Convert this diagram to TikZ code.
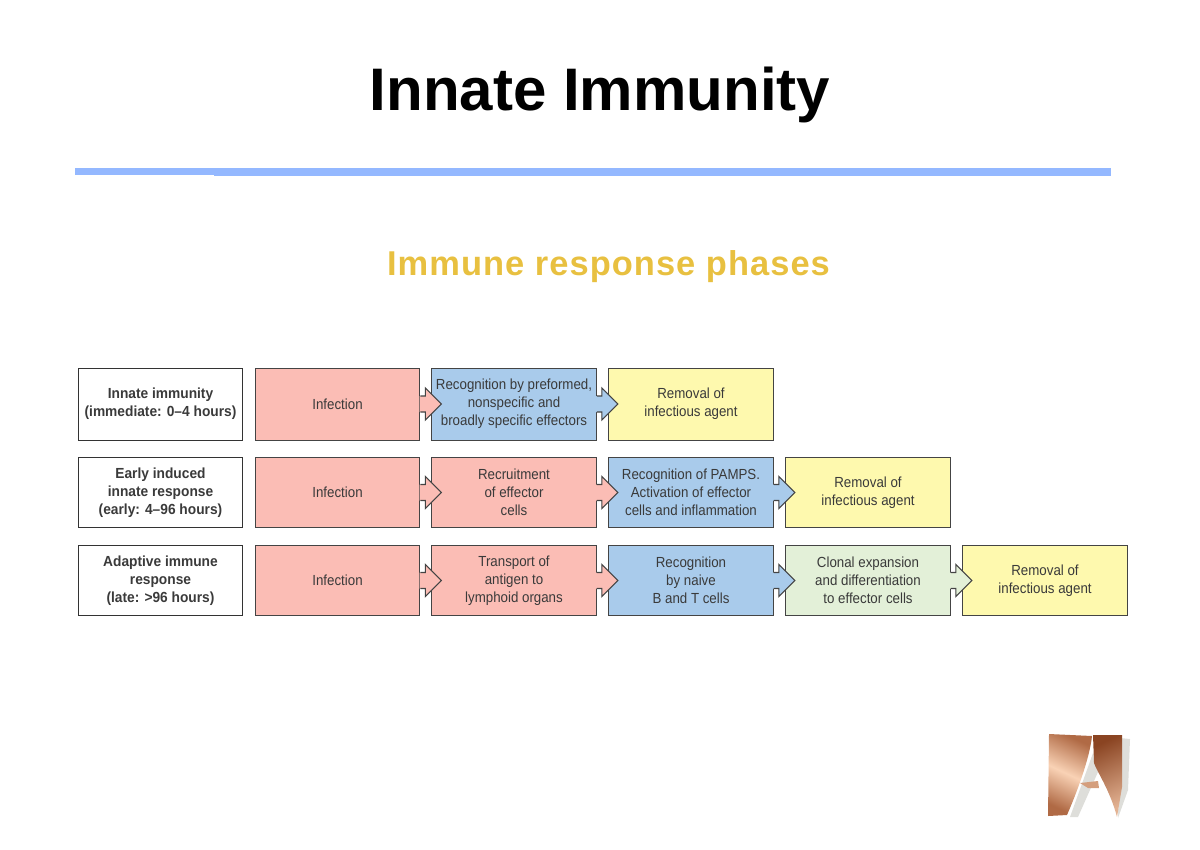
\documentclass[tikz,border=0pt]{standalone}
\usepackage{fontspec}
\setmainfont{Liberation Sans}
\newfontfamily\phasefont[FakeStretch=0.91,Ligatures=TeX]{Liberation Sans}
\newfontfamily\labelfont[FakeStretch=0.94,Ligatures=TeX]{Liberation Sans}
\definecolor{rulecol}{HTML}{94B8FF}
\definecolor{subcol}{HTML}{E8C040}
\definecolor{pinkbox}{HTML}{FBBDB5}
\definecolor{bluebox}{HTML}{A9CBEB}
\definecolor{yellowbox}{HTML}{FEF9AE}
\definecolor{greenbox}{HTML}{E3F0D8}
\definecolor{edgecol}{HTML}{444444}
\definecolor{textcol}{HTML}{3A3A3A}
\definecolor{logodark}{HTML}{8A4422}
\definecolor{logomid}{HTML}{B06A45}
\definecolor{logolight}{HTML}{F9D2B5}
\definecolor{logoshadow}{HTML}{DEDEDA}
\tikzset{
	phase/.style={draw=edgecol, line width=0.7pt, minimum width=4.12cm, minimum height=1.76cm, align=center, inner sep=0pt, text=textcol, font=\phasefont\fontsize{10.4}{12.7}\selectfont},
	rowlabel/.style={phase, draw=black!80, fill=white, font=\labelfont\fontsize{10.4}{12.7}\selectfont\bfseries},
	firstrow/.style={minimum height=1.8cm},
}
\def\boxarrow#1#2{
	\fill[#2, shift={(#1.east)}] (-0.7, -8) -- (5, -8) -- (5, -16) -- (21, 0) -- (5, 16) -- (5, 8) -- (-0.7, 8) -- cycle;
	\draw[edgecol, line width=0.8pt, shift={(#1.east)}] (0, -8) -- (5, -8) -- (5, -16) -- (21, 0) -- (5, 16) -- (5, 8) -- (0, 8);
}

\begin{document}
\begin{tikzpicture}[x=0.025cm, y=-0.025cm]
	\useasboundingbox (0, 0) rectangle (1200, 849);
	
	%%%%% HEADER %%%%%
	\node (title) at (600, 95) {\fontsize{42.7}{50}\selectfont\bfseries Innate Immunity};
	\fill[rulecol] (75, 168) rectangle (215, 174.5);
	\fill[rulecol] (214, 168) rectangle (1111, 175.5);
	\node[text=subcol] (subtitle) at (608.5, 267) {\fontsize{24.5}{28}\selectfont\bfseries\addfontfeatures{LetterSpace=3} Immune response phases};
	
	%%%%% FIRST ROW %%%%%
	\node[rowlabel, firstrow] (innate) at (160.5, 404) {Innate immunity\\(immediate: 0--4 hours)};
	\node[phase, firstrow, fill=pinkbox] (infa) at (337.5, 404) {Infection};
	\node[phase, firstrow, fill=bluebox] (recoga) at (514, 404) {Recognition by preformed,\\nonspecific and\\broadly specific effectors};
	\node[phase, firstrow, fill=yellowbox] (removea) at (691, 404) {Removal of\\infectious agent};
	\boxarrow{infa}{pinkbox}
	\boxarrow{recoga}{bluebox}
	
	%%%%% SECOND ROW %%%%%
	\node[rowlabel] (early) at (160.5, 492.5) {Early induced\\innate response\\(early: 4--96 hours)};
	\node[phase, fill=pinkbox] (infb) at (337.5, 492.5) {Infection};
	\node[phase, fill=pinkbox] (recruit) at (514, 492.5) {Recruitment\\of effector\\cells};
	\node[phase, fill=bluebox] (recogb) at (691, 492.5) {Recognition of PAMPS.\\Activation of effector\\cells and inflammation};
	\node[phase, fill=yellowbox] (removeb) at (868, 492.5) {Removal of\\infectious agent};
	\boxarrow{infb}{pinkbox}
	\boxarrow{recruit}{pinkbox}
	\boxarrow{recogb}{bluebox}
	
	%%%%% THIRD ROW %%%%%
	\node[rowlabel] (adaptive) at (160.5, 580.5) {Adaptive immune\\response\\(late: >96 hours)};
	\node[phase, fill=pinkbox] (infc) at (337.5, 580.5) {Infection};
	\node[phase, fill=pinkbox] (transport) at (514, 580.5) {Transport of\\antigen to\\lymphoid organs};
	\node[phase, fill=bluebox] (recogc) at (691, 580.5) {Recognition\\by naive\\B and T cells};
	\node[phase, fill=greenbox] (clonal) at (868, 580.5) {Clonal expansion\\and differentiation\\to effector cells};
	\node[phase, fill=yellowbox] (removec) at (1045, 580.5) {Removal of\\infectious agent};
	\boxarrow{infc}{pinkbox}
	\boxarrow{transport}{pinkbox}
	\boxarrow{recogc}{bluebox}
	\boxarrow{clonal}{greenbox}
	
	%%%%% LOGO %%%%%
	\fill[logoshadow] (1120, 738) -- (1130, 739) -- (1128, 790) -- (1118, 818) -- cycle;
	\fill[logoshadow] (1093, 753) -- (1070, 817) -- (1078, 817) -- (1098, 772) -- cycle;
	\shade[top color=logomid, bottom color=logomid, middle color=logolight, shading angle=-25] (1049, 734) -- (1092, 736) .. controls (1090, 755) and (1080, 785) .. (1067, 815) -- (1048, 816) -- cycle;
	\shade[top color=logodark, bottom color=logolight!70!logomid, shading angle=25] (1093, 735) -- (1122, 735) -- (1122, 787) -- (1117, 817) .. controls (1110, 790) and (1096, 770) .. (1094, 763) -- cycle;
	\fill[logomid!50!logolight] (1080, 783) -- (1098, 781) -- (1099, 788) -- (1088, 788) -- cycle;
\end{tikzpicture}
\end{document}
